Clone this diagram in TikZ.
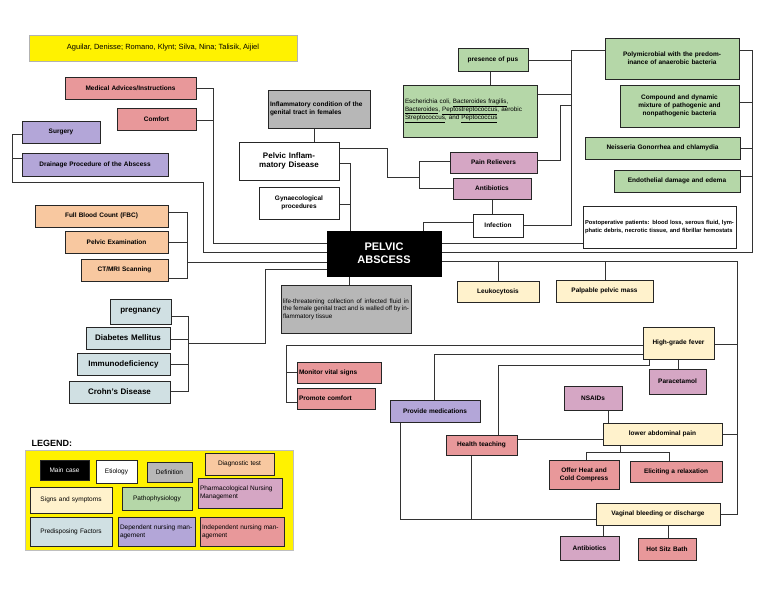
\documentclass[tikz,border=0pt]{standalone}
\usepackage{fontspec}
\setmainfont{Liberation Sans}
\usetikzlibrary{calc}
\definecolor{cpink}{HTML}{E8989A}
\definecolor{cpurp}{HTML}{B3A6D8}
\definecolor{cpeach}{HTML}{F8C8A0}
\definecolor{cgreen}{HTML}{B5D7A8}
\definecolor{cmauve}{HTML}{D5A6C4}
\definecolor{cylw}{HTML}{FFF2CC}
\definecolor{cblue}{HTML}{D0E0E3}
\definecolor{cgray}{HTML}{B7B7B7}
\definecolor{cline}{HTML}{333333}
\tikzset{bxs/.style={draw=black!85,line width=0.9pt,inner sep=1pt,align=center,font=\fontsize{6.5}{8}\selectfont\bfseries},
ln/.style={draw=cline,line width=0.8pt},
lg/.style={draw=black!85,line width=0.9pt,inner sep=1pt,align=center,font=\fontsize{6.5}{8}\selectfont}}
\newcommand{\bx}[7]{\node[bxs,#2,minimum width=#5pt-#3pt,minimum height=#6pt-#4pt,text width=#5pt-#3pt-4pt] (#1) at ({(#3+#5)/2},{(#4+#6)/2}) {#7};}
\newcommand{\lx}[7]{\node[lg,#2,minimum width=#5pt-#3pt,minimum height=#6pt-#4pt,text width=#5pt-#3pt-4pt] (#1) at ({(#3+#5)/2},{(#4+#6)/2}) {#7};}
\begin{document}
\begin{tikzpicture}[x=1pt,y=-1pt]
\useasboundingbox (0,0) rectangle (768,591);
\fill[white] (0,0) rectangle (768,591);
% connectors first
\begin{scope}[ln]
\coordinate (c1) at (213,243);
\draw (196,88) -| (c1) -- (327,243);
\draw (196,120) -- (213,120);
\draw (22,134) -- (12,134) |- (203,182) |- (327,252);
\draw (22,158) -- (12,158);
\draw (168,212) -| (187,278) -- (168,278);
\draw (168,242) -- (187,242);
\draw (187,262) -- (327,262);
\draw (314,128) -- (314,142);
\draw (339,148) -| (387,177) -- (419,177);
\draw (450,161) -| (419,188) -- (453,188);
\draw (339,163) -| (350,231);
\draw (339,204) -- (350,204);
\draw (490,71) -- (490,85);
\draw (528,60) -- (571,60);
\draw (605,50) -| (571,225) -- (523,225);
\draw (537,94) -- (571,94);
\draw (537,160) -| (560,105) -- (571,105);
\draw (492,199) -- (492,214);
\draw (473,222) -| (423,231);
\draw (739,50) -| (752,252) -- (441,252);
\draw (739,102) -- (752,102);
\draw (740,148) -- (752,148);
\draw (740,176) -- (752,176);
\draw (441,243) -- (583,243);
\draw (441,261) -| (737,514) -- (720,514);
\draw (714,344) -- (737,344);
\draw (722,434) -- (737,434);
\draw (498,281) -- (498,261);
\draw (605,280) -- (605,261);
\draw (349,276) -- (349,285);
\draw (327,269) -| (265,343) -- (188,343);
\draw (171,316) -| (188,391) -- (170,391);
\draw (170,339) -- (188,339);
\draw (170,364) -- (188,364);
\draw (643,345) -| (286,402) -- (297,402);
\draw (286,372) -- (297,372);
\draw (643,354) -| (434,400);
\draw (649,359) |- (498,365) -- (498,435);
\draw (678,359) -- (678,369);
\draw (608,410) -- (608,423);
\draw (517,439) -- (603,439);
\draw (620,445) -- (620,452);
\draw (586,460) |- (669,452) -- (669,461);
\draw (400,422) |- (596,519);
\draw (471,455) -- (471,519);
\draw (603,525) -- (603,536);
\draw (668,525) -- (668,538);
\end{scope}
% boxes
\node[draw=black!30,fill=yellow,line width=0.8pt,minimum width=268pt,minimum height=26pt,font=\fontsize{7.5}{9}\selectfont] (auth) at (163,48) {Aguilar, Denisse; Romano, Klynt; Silva, Nina; Talisik, Aijiel};
\bx{ma}{fill=cpink}{65}{77}{196}{99}{Medical Advices/Instructions}
\bx{cf}{fill=cpink}{117}{108}{196}{130}{Comfort}
\bx{su}{fill=cpurp}{22}{121}{100}{143}{Surgery}
\bx{dr}{fill=cpurp}{22}{153}{168}{176}{Drainage Procedure of the Abscess}
\bx{ic}{fill=cgray,align=left}{268}{90}{370}{128}{Inflammatory condition of the genital tract in females}
\bx{pid}{fill=white,font=\fontsize{8}{9}\selectfont\bfseries}{239}{142}{339}{180}{Pelvic Inflammatory Disease}
\bx{gy}{fill=white}{259}{187}{339}{219}{Gynaecological procedures}
\bx{pus}{fill=cgreen}{458}{48}{528}{71}{presence of pus}
\node[draw=black!85,line width=0.9pt,fill=cgreen,minimum width=134pt,minimum height=52pt,text width=130pt,inner sep=1pt,align=left,font=\fontsize{6.3}{8}\selectfont] (ec) at (470,111) {Escherichia coli, \underline{Bacteroides fragilis}, \underline{Bacteroides}, \underline{Peptostreptococcus}, aerobic \underline{Streptococcus}, and \underline{Peptococcus}};
\bx{poly}{fill=cgreen}{605}{38}{739}{79}{Polymicrobial with the predominance of anaerobic bacteria}
\bx{comp}{fill=cgreen}{620}{85}{739}{127}{Compound and dynamic mixture of pathogenic and nonpathogenic bacteria}
\bx{nei}{fill=cgreen}{585}{137}{740}{159}{Neisseria Gonorrhea and chlamydia}
\bx{endo}{fill=cgreen}{614}{170}{740}{192}{Endothelial damage and edema}
\bx{pr}{fill=cmauve}{450}{152}{537}{173}{Pain Relievers}
\bx{ab1}{fill=cmauve}{453}{178}{531}{199}{Antibiotics}
\bx{inf}{fill=white}{473}{214}{523}{237}{Infection}
\node[draw=black!85,line width=0.9pt,fill=white,minimum width=153pt,minimum height=42pt,text width=149pt,inner sep=1pt,align=left,font=\fontsize{5.8}{8}\selectfont\bfseries] (po) at (659.5,227) {Postoperative patients: blood loss, serous fluid, lymphatic debris, necrotic tissue, and fibrillar hemostats};
\node[draw=black,fill=black,text=white,minimum width=114pt,minimum height=45pt,align=center,font=\fontsize{11}{13}\selectfont\bfseries] (pa) at (384,253.5) {PELVIC\\ABSCESS};
\bx{fbc}{fill=cpeach}{35}{205}{168}{227}{Full Blood Count (FBC)}
\bx{pe}{fill=cpeach}{65}{231}{168}{253}{Pelvic Examination}
\bx{ct}{fill=cpeach}{81}{259}{168}{281}{CT/MRI Scanning}
\node[draw=black!85,line width=0.9pt,fill=cgray,minimum width=130pt,minimum height=48pt,text width=126pt,inner sep=1pt,align=justify,font=\fontsize{6.3}{7.5}\selectfont] (def) at (346,309) {life-threatening collection of infected fluid in the female genital tract and is walled off by inflammatory tissue};
\bx{leu}{fill=cylw}{457}{281}{539}{302}{Leukocytosis}
\bx{pal}{fill=cylw}{556}{280}{653}{302}{Palpable pelvic mass}
\bx{preg}{fill=cblue,font=\fontsize{8}{9}\selectfont\bfseries}{110}{299}{171}{324}{pregnancy}
\bx{dm}{fill=cblue,font=\fontsize{8}{9}\selectfont\bfseries}{86}{327}{170}{349}{Diabetes Mellitus}
\bx{imm}{fill=cblue,font=\fontsize{8}{9}\selectfont\bfseries}{77}{353}{170}{375}{Immunodeficiency}
\bx{cro}{fill=cblue,font=\fontsize{8}{9}\selectfont\bfseries}{69}{381}{170}{403}{Crohn's Disease}
\bx{hgf}{fill=cylw}{643}{327}{714}{359}{High-grade fever}
\bx{par}{fill=cmauve}{649}{369}{706}{394}{Paracetamol}
\bx{mvs}{fill=cpink,align=left}{297}{362}{381}{383}{Monitor vital signs}
\bx{pcf}{fill=cpink,align=left}{297}{388}{375}{409}{Promote comfort}
\bx{nsa}{fill=cmauve}{564}{386}{622}{410}{NSAIDs}
\bx{pm}{fill=cpurp}{390}{400}{480}{422}{Provide medications}
\bx{lap}{fill=cylw}{603}{423}{722}{445}{lower abdominal pain}
\bx{ht}{fill=cpink}{446}{435}{517}{455}{Health teaching}
\bx{oh}{fill=cpink}{549}{460}{619}{489}{Offer Heat and Cold Compress}
\bx{er}{fill=cpink}{630}{461}{722}{482}{Eliciting a relaxation}
\bx{vb}{fill=cylw}{596}{503}{720}{525}{Vaginal bleeding or discharge}
\bx{ab2}{fill=cmauve}{560}{536}{619}{560}{Antibiotics}
\bx{hsb}{fill=cpink}{638}{538}{696}{560}{Hot Sitz Bath}
% legend
\node[anchor=west,font=\fontsize{9}{10}\selectfont\bfseries] (legt) at (28,443) {LEGEND:};
\node[draw=black!25,fill=yellow,line width=0.8pt,minimum width=268pt,minimum height=100pt] (legb) at (159,500) {};
\lx{l1}{fill=black,text=white}{40}{460}{89}{480}{Main case}
\lx{l2}{fill=white}{96}{460}{137}{483}{Etiology}
\lx{l3}{fill=cgray}{147}{462}{192}{482}{Definition}
\lx{l4}{fill=cpeach}{205}{453}{274}{475}{Diagnostic test}
\lx{l5}{fill=cylw}{30}{487}{112}{513}{Signs and symptoms}
\lx{l6}{fill=cgreen}{122}{487}{192}{510}{Pathophysiology}
\lx{l7}{fill=cmauve,align=left}{198}{478}{282}{508}{Pharmacological Nursing Management}
\lx{l8}{fill=cblue}{30}{517}{112}{546}{Predisposing Factors}
\lx{l9}{fill=cpurp,align=left}{118}{517}{195}{546}{Dependent nursing management}
\lx{l10}{fill=cpink,align=left}{200}{517}{284}{546}{Independent nursing management}
\end{tikzpicture}
\end{document}
